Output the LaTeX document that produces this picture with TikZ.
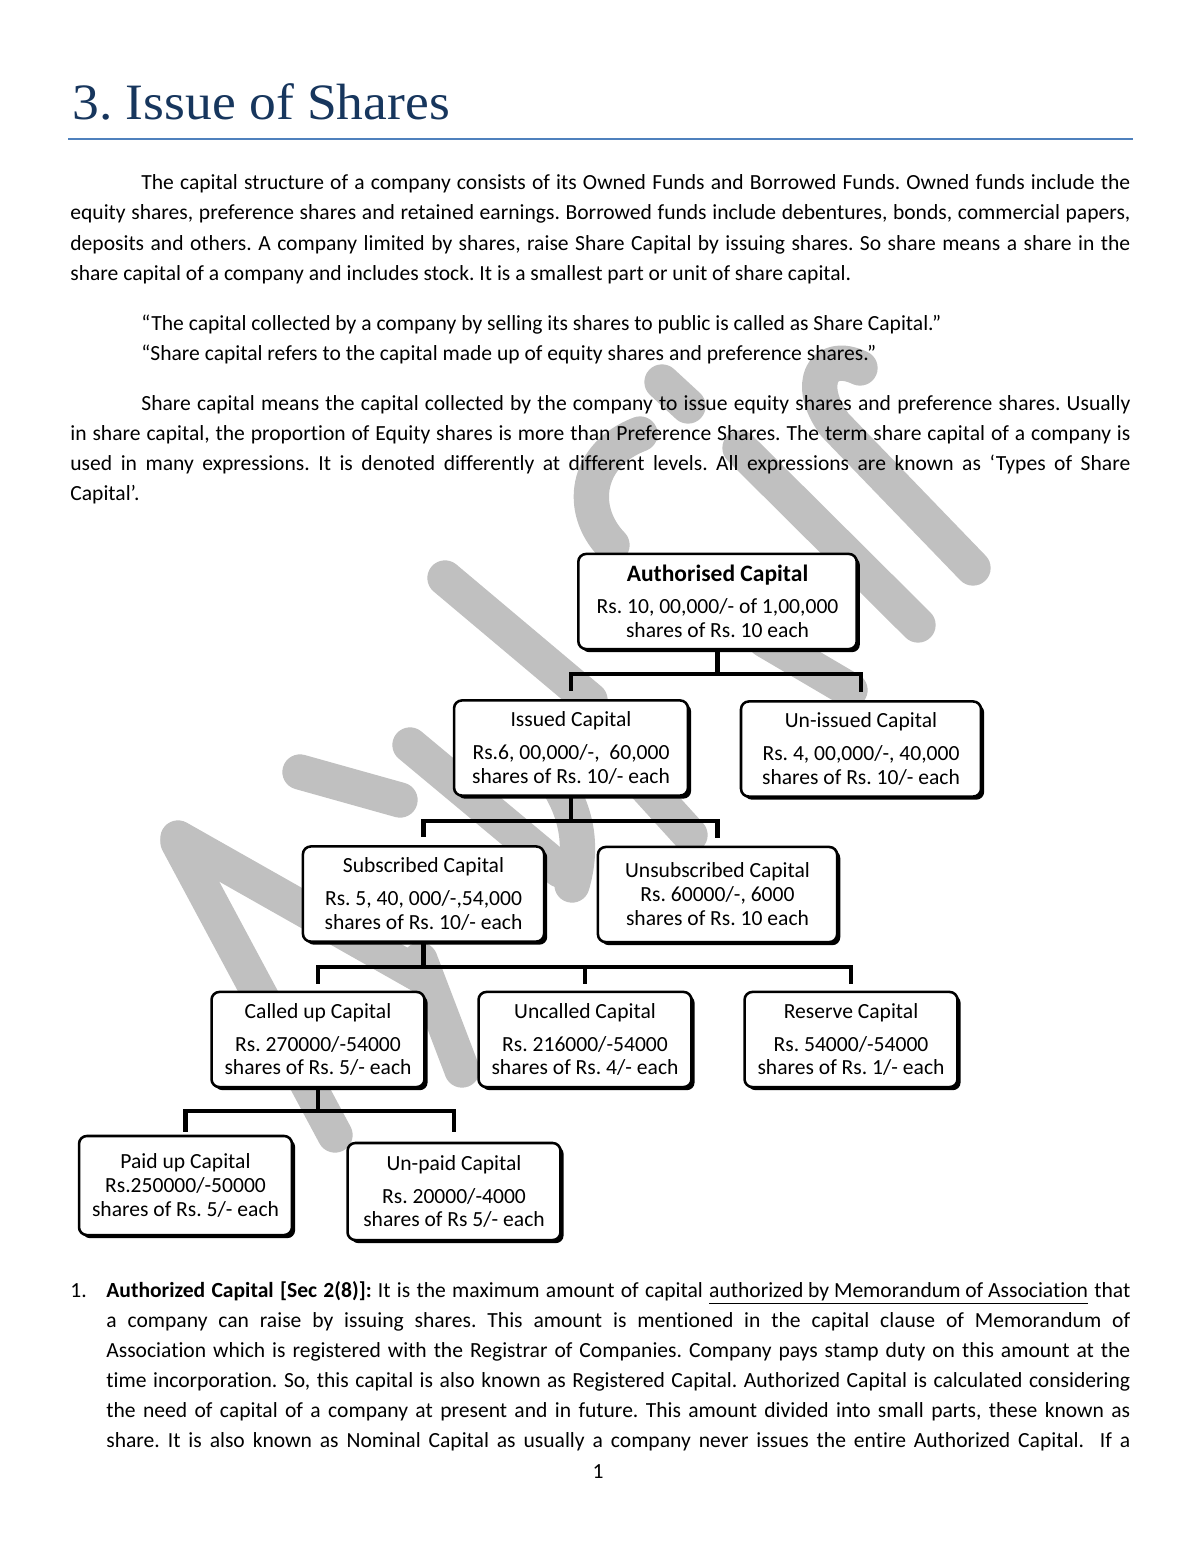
\documentclass[tikz,border=0pt]{standalone}
\usepackage{fontspec}
\setmainfont{Carlito}[Ligatures=NoCommon]
\newfontfamily\titlefont{Liberation Serif}[FakeStretch=1.05]
\usetikzlibrary{positioning,shadows}
\frenchspacing

\definecolor{titleblue}{HTML}{17365D}
\definecolor{ruleblue}{HTML}{4F81BD}
\definecolor{wmgray}{HTML}{C0C0C0}

% one justified line of a paragraph
\newcommand{\jl}[2][540.6pt]{\makebox[#1][s]{#2}}

\tikzset{
  capbox/.style={draw, line width=1.3pt, rounded corners=4pt, fill=white, align=center,
    inner sep=0pt, minimum width=108.6pt, minimum height=48.5pt,
    font=\fontsize{11}{12.2}\selectfont,
    drop shadow={shadow xshift=1.6pt, shadow yshift=-1.6pt, fill=black, opacity=1}},
  conn/.style={line width=2.2pt},
  para/.style={anchor=base west, inner sep=0pt, align=justify, text width=540.6pt,
    font=\fontsize{11}{15.3}\selectfont},
  wmark/.style={wmgray, line width=18pt, line cap=round, line join=round}
}

\begin{document}
\begin{tikzpicture}[x=0.51pt, y=-0.51pt]
  \useasboundingbox[fill=white] (0,0) rectangle (1200,1553);

  % heading
  \node[anchor=base west, inner sep=0pt, text=titleblue,
        font=\titlefont\fontsize{26}{30}\selectfont] (title) at (72,120) {3. Issue of Shares};
  \draw[ruleblue, line width=1.4pt] (68,139) -- (1133,139);

  % watermark (behind everything else)
  \draw[wmark] (445,578) -- (590,700);
  \draw[wmark] (740,448) -- (918,625);
  \draw[wmark] (860,368) .. controls (822,350) and (805,385) .. (835,425) -- (973,568);
  \draw[wmark] (662,382) -- (688,406);
  \draw[wmark] (640,434) .. controls (585,455) and (578,510) .. (612,545);
  \draw[wmark] (765,640) -- (850,690);
  \draw[wmark] (300,772) -- (400,800);
  \draw[wmark] (410,745) -- (560,870);
  \draw[wmark] (540,760) .. controls (575,800) and (585,840) .. (572,885);
  \draw[wmark] (640,780) -- (690,835);
  \draw[wmark] (178,838) -- (420,975);
  \draw[wmark] (178,842) -- (335,1135);
  \draw[wmark] (420,960) -- (462,1070);

  % text above the chart
  \node[para] (par1) at (70,190) {%
    \hspace*{36.2pt}\jl[504.4pt]{The capital structure of a company consists of its Owned Funds and Borrowed Funds. Owned funds include the}\\
    \jl{equity shares, preference shares and retained earnings. Borrowed funds include debentures, bonds, commercial papers,}\\
    \jl{deposits and others. A company limited by shares, raise Share Capital by issuing shares. So share means a share in the}\\
    share capital of a company and includes stock. It is a smallest part or unit of share capital.};

  \node[para, text width=504.4pt] (quotes) at (141,330) {%
    “The capital collected by a company by selling its shares to public is called as Share Capital.”\\
    “Share capital refers to the capital made up of equity shares and preference shares.”};

  \node[para] (par2) at (70,410) {%
    \hspace*{36.2pt}\jl[504.4pt]{Share capital means the capital collected by the company to issue equity shares and preference shares. Usually}\\
    \jl{in share capital, the proportion of Equity shares is more than Preference Shares. The term share capital of a company is}\\
    \jl{used in many expressions. It is denoted differently at different levels. All expressions are known as ‘Types of Share}\\
    Capital’.};

  % chart boxes
  \node[capbox, minimum width=142pt] (auth) at (717.5,601.5)
    {{\fontsize{12}{14}\selectfont\bfseries Authorised Capital}\\[4.4pt]
     Rs. 10, 00,000/- of 1,00,000\\ shares of Rs. 10 each};
  \node[capbox, minimum width=119.3pt] (issued) at (571,748)
    {Issued Capital\\[4.6pt] Rs.6, 00,000/-, \ 60,000\\ shares of Rs. 10/- each};
  \node[capbox, minimum width=122.4pt] (unissued) at (861,749)
    {Un-issued Capital\\[4.6pt] Rs. 4, 00,000/-, 40,000\\ shares of Rs. 10/- each};
  \node[capbox, minimum width=123pt] (subscr) at (423.5,894)
    {Subscribed Capital\\[4.6pt] Rs. 5, 40, 000/-,54,000\\ shares of Rs. 10/- each};
  \node[capbox, minimum width=122pt] (unsubscr) at (717.5,894.5)
    {Unsubscribed Capital\\ Rs. 60000/-, 6000\\ shares of Rs. 10 each};
  \node[capbox] (calledup) at (318,1039.5)
    {Called up Capital\\[4.6pt] Rs. 270000/-54000\\ shares of Rs. 5/- each};
  \node[capbox] (uncalled) at (585,1039.5)
    {Uncalled Capital\\[4.6pt] Rs. 216000/-54000\\ shares of Rs. 4/- each};
  \node[capbox] (reserve) at (851,1039.5)
    {Reserve Capital\\[4.6pt] Rs. 54000/-54000\\ shares of Rs. 1/- each};
  \node[capbox, minimum height=50.5pt] (paidup) at (185.5,1185.5)
    {Paid up Capital\\ Rs.250000/-50000\\ shares of Rs. 5/- each};
  \node[capbox, minimum height=49.5pt] (unpaid) at (454,1191.5)
    {Un-paid Capital\\[4.6pt] Rs. 20000/-4000\\ shares of Rs 5/- each};

  % elbow connectors
  \foreach \kid in {issued, unissued}
    \draw[conn] (auth.south) -- ++(0,24) -| ([yshift=4pt]\kid.north);
  \foreach \kid in {subscr, unsubscr}
    \draw[conn] (issued.south) -- ++(0,24) -| ([yshift=4pt]\kid.north);
  \foreach \kid in {calledup, uncalled, reserve}
    \draw[conn] (subscr.south) -- ++(0,24) -| ([yshift=3.5pt]\kid.north);
  \draw[conn] (calledup.south) -- ++(0,23) -| ([yshift=1.5pt]paidup.north);
  \draw[conn] (calledup.south) -- ++(0,23) -| ([yshift=5pt]unpaid.north);

  % numbered point below the chart
  \node[anchor=base west, inner sep=0pt, font=\fontsize{11}{15.3}\selectfont] (num1) at (70,1297) {1.};
  \node[para, text width=522.2pt] (item1) at (106,1297) {%
    \jl[522.2pt]{\textbf{Authorized Capital [Sec 2(8)]:} It is the maximum amount of capital \underline{authorized by Memorandum of Association} that}\\
    \jl[522.2pt]{a company can raise by issuing shares. This amount is mentioned in the capital clause of Memorandum of}\\
    \jl[522.2pt]{Association which is registered with the Registrar of Companies. Company pays stamp duty on this amount at the}\\
    \jl[522.2pt]{time incorporation. So, this capital is also known as Registered Capital. Authorized Capital is calculated considering}\\
    \jl[522.2pt]{the need of capital of a company at present and in future. This amount divided into small parts, these known as}\\
    \jl[522.2pt]{share. It is also known as Nominal Capital as usually a company never issues the entire Authorized Capital. \ If a}};

  % page number
  \node[anchor=base, inner sep=0pt, font=\fontsize{11}{13}\selectfont] (pgnum) at (598,1478) {1};
\end{tikzpicture}
\end{document}
